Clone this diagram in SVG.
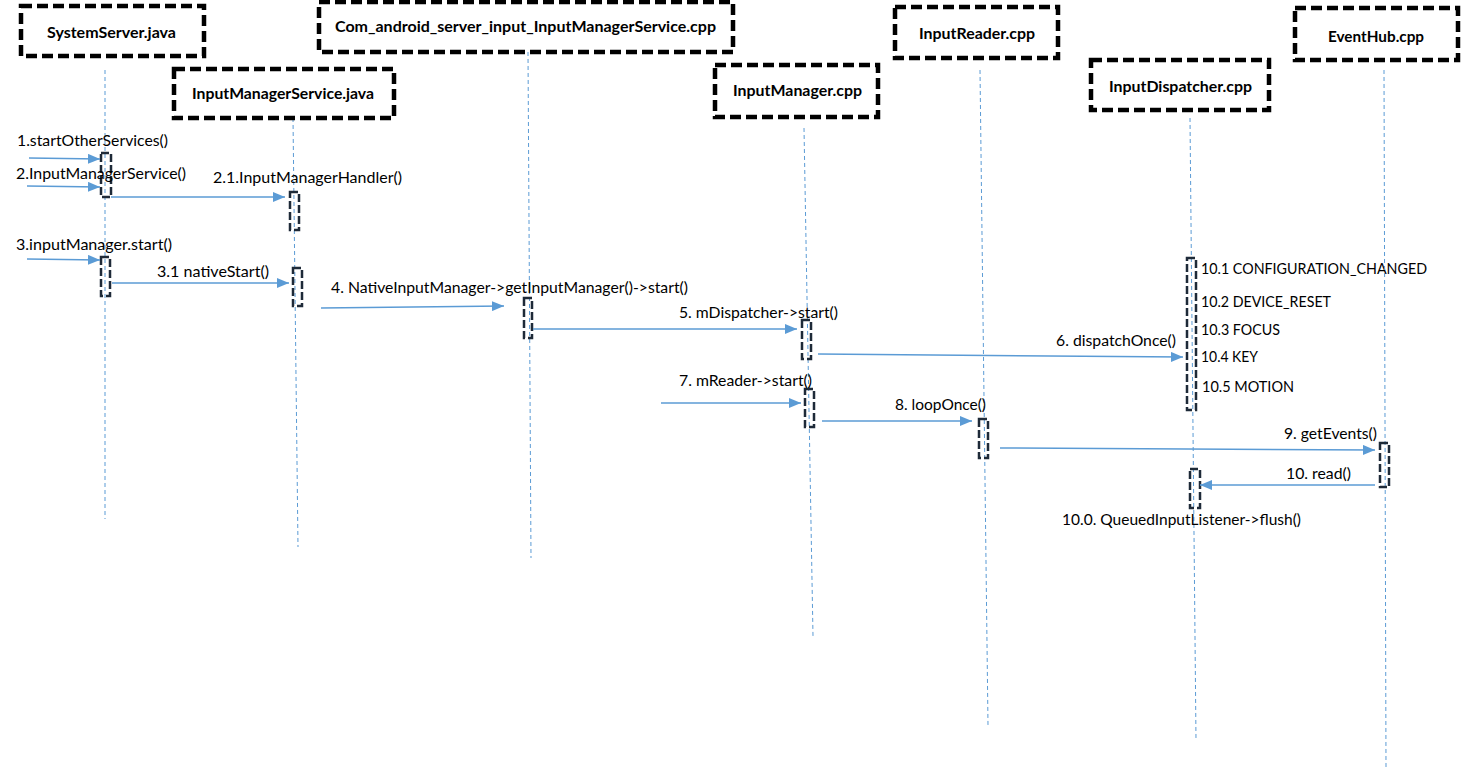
<svg xmlns="http://www.w3.org/2000/svg" width="1461" height="771" viewBox="0 0 1461 771">
<style>
.hdr{fill:#fff;stroke:#000;stroke-width:4.5;stroke-dasharray:11 5}
.ht{font-family:Lato,"Liberation Sans",sans-serif;font-weight:bold;font-size:15px;fill:#000}
.life{stroke:#5b9bd5;stroke-width:1;stroke-dasharray:4 3;fill:none}
.act{fill:none;stroke:#1e2a38;stroke-width:2.5;stroke-dasharray:8 3}
.msg{stroke:#5b9bd5;stroke-width:1.5;fill:none;marker-end:url(#ah)}
.lb{font-family:Lato,"Liberation Sans",sans-serif;font-size:15px;fill:#000}
</style>
<defs>
<marker id="ah" viewBox="0 0 12 10" refX="12" refY="5" markerWidth="12" markerHeight="10" markerUnits="userSpaceOnUse" orient="auto">
<path d="M0,0 L12,5 L0,10 z" fill="#5b9bd5"/>
</marker>
</defs>
<rect width="1461" height="771" fill="#fff"/>

<g id="SystemServer">
<line class="life" x1="105" y1="70" x2="105" y2="519"/>
<rect class="hdr" x="21" y="6" width="183" height="50"/>
<text class="ht" x="47" y="38" textLength="129" lengthAdjust="spacingAndGlyphs">SystemServer.java</text>
<rect class="act" x="101" y="153" width="10" height="44"/>
<rect class="act" x="101" y="257" width="9" height="39"/>
</g>

<g id="InputManagerService">
<line class="life" x1="293" y1="118" x2="298" y2="547"/>
<rect class="hdr" x="174" y="69" width="220" height="49"/>
<text class="ht" x="192" y="99" textLength="182" lengthAdjust="spacingAndGlyphs">InputManagerService.java</text>
<rect class="act" x="290" y="192" width="9" height="38"/>
<rect class="act" x="293" y="268" width="9" height="38"/>
</g>

<g id="ComAndroidServerInput">
<line class="life" x1="528" y1="52" x2="531" y2="558"/>
<rect class="hdr" x="319" y="2" width="414" height="50"/>
<text class="ht" x="335" y="32" textLength="381" lengthAdjust="spacingAndGlyphs">Com_android_server_input_InputManagerService.cpp</text>
<rect class="act" x="524" y="298" width="8" height="40"/>
</g>

<g id="InputManager">
<line class="life" x1="804" y1="128" x2="813" y2="636"/>
<rect class="hdr" x="715" y="65" width="163" height="52"/>
<text class="ht" x="733" y="96" textLength="129" lengthAdjust="spacingAndGlyphs">InputManager.cpp</text>
<rect class="act" x="802" y="320" width="9" height="39"/>
<rect class="act" x="805" y="389" width="9" height="38"/>
</g>

<g id="InputReader">
<line class="life" x1="980" y1="70" x2="988" y2="725"/>
<rect class="hdr" x="895" y="7" width="163" height="51"/>
<text class="ht" x="919" y="39" textLength="116" lengthAdjust="spacingAndGlyphs">InputReader.cpp</text>
<rect class="act" x="979" y="419" width="9" height="39"/>
</g>

<g id="InputDispatcher">
<line class="life" x1="1190" y1="118" x2="1196" y2="740"/>
<rect class="hdr" x="1091" y="60" width="178" height="50"/>
<text class="ht" x="1109" y="92" textLength="143" lengthAdjust="spacingAndGlyphs">InputDispatcher.cpp</text>
<rect class="act" x="1187" y="258" width="9" height="152"/>
<rect class="act" x="1190" y="469" width="10" height="39"/>
<text class="lb" x="1201" y="274" textLength="226" lengthAdjust="spacingAndGlyphs">10.1 CONFIGURATION_CHANGED</text>
<text class="lb" x="1201" y="307" textLength="130" lengthAdjust="spacingAndGlyphs">10.2 DEVICE_RESET</text>
<text class="lb" x="1201" y="335" textLength="79" lengthAdjust="spacingAndGlyphs">10.3 FOCUS</text>
<text class="lb" x="1201" y="362" textLength="57" lengthAdjust="spacingAndGlyphs">10.4 KEY</text>
<text class="lb" x="1202" y="392" textLength="92" lengthAdjust="spacingAndGlyphs">10.5 MOTION</text>
</g>

<g id="EventHub">
<line class="life" x1="1384" y1="70" x2="1386" y2="767"/>
<rect class="hdr" x="1295" y="8" width="163" height="52"/>
<text class="ht" x="1328" y="42" textLength="96" lengthAdjust="spacingAndGlyphs">EventHub.cpp</text>
<rect class="act" x="1380" y="443" width="9" height="44"/>
</g>

<g id="connectors">
<line class="msg" x1="29" y1="158" x2="100" y2="159"/>
<line class="msg" x1="27" y1="186" x2="100" y2="187"/>
<line class="msg" x1="111" y1="197" x2="285" y2="197"/>
<line class="msg" x1="27" y1="259" x2="100" y2="260"/>
<line class="msg" x1="112" y1="283" x2="289" y2="283"/>
<line class="msg" x1="321" y1="308" x2="504" y2="306"/>
<line class="msg" x1="533" y1="329" x2="797" y2="329"/>
<line class="msg" x1="818" y1="354" x2="1183" y2="357"/>
<line class="msg" x1="661" y1="403" x2="801" y2="403"/>
<line class="msg" x1="822" y1="421" x2="972" y2="421"/>
<line class="msg" x1="1000" y1="448" x2="1375" y2="450"/>
<line class="msg" x1="1375" y1="485" x2="1200" y2="485"/>
<text class="lb" x="17" y="146" textLength="151" lengthAdjust="spacingAndGlyphs">1.startOtherServices()</text>
<text class="lb" x="16" y="179" textLength="170" lengthAdjust="spacingAndGlyphs">2.InputManagerService()</text>
<text class="lb" x="213" y="183" textLength="189" lengthAdjust="spacingAndGlyphs">2.1.InputManagerHandler()</text>
<text class="lb" x="16" y="250" textLength="156" lengthAdjust="spacingAndGlyphs">3.inputManager.start()</text>
<text class="lb" x="157" y="277" textLength="112" lengthAdjust="spacingAndGlyphs">3.1 nativeStart()</text>
<text class="lb" x="331" y="293" textLength="357" lengthAdjust="spacingAndGlyphs">4. NativeInputManager-&gt;getInputManager()-&gt;start()</text>
<text class="lb" x="679" y="318" textLength="159" lengthAdjust="spacingAndGlyphs">5. mDispatcher-&gt;start()</text>
<text class="lb" x="1056" y="346" textLength="120" lengthAdjust="spacingAndGlyphs">6. dispatchOnce()</text>
<text class="lb" x="679" y="386" textLength="133" lengthAdjust="spacingAndGlyphs">7. mReader-&gt;start()</text>
<text class="lb" x="895" y="410" textLength="91" lengthAdjust="spacingAndGlyphs">8. loopOnce()</text>
<text class="lb" x="1284" y="439" textLength="93" lengthAdjust="spacingAndGlyphs">9. getEvents()</text>
<text class="lb" x="1286" y="479" textLength="65" lengthAdjust="spacingAndGlyphs">10. read()</text>
<text class="lb" x="1062" y="525" textLength="239" lengthAdjust="spacingAndGlyphs">10.0. QueuedInputListener-&gt;flush()</text>
</g>
</svg>
